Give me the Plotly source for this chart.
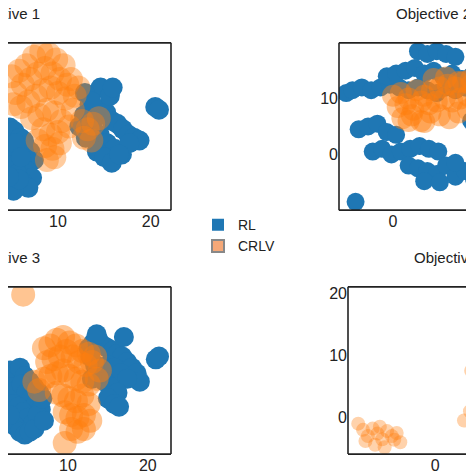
import plotly.graph_objects as go

BLUE = "#1f77b4"
ORANGE = "#ff7f0e"

# Objective 1
o1_rl_x = [4.8,5.3,5.9,6.4,7.0,7.4,4.9,5.5,6.1,6.7,7.2,5.0,5.6,6.2,6.8,5.2,5.8,6.3,4.7,5.4,6.0,
           12.3,12.8,13.4,14.0,14.6,15.2,15.8,16.4,17.0,17.6,18.2,18.8,13.0,13.8,14.5,15.3,16.1,
           16.9,17.7,14.2,15.0,15.8,16.6,14.6,15.6,12.9,15.9,13.6,20.5,20.9]
o1_rl_y = [4.8,4.2,3.0,1.8,0.5,-1.0,1.5,0.0,-1.5,-3.0,-4.2,-2.0,-3.5,-5.0,-6.0,-6.5,-4.5,2.5,-4.0,2.0,-0.5,
           5.0,7.0,9.0,6.5,8.0,7.5,6.0,5.5,4.5,3.5,3.0,2.5,3.0,4.0,3.5,2.0,1.0,0.0,2.0,0.5,-0.5,-1.5,
           0.0,12.0,10.5,11.0,12.0,9.5,8.5,8.0]
o1_cr_x = [5.0,5.8,6.6,7.4,8.2,9.0,9.8,10.6,11.4,12.2,5.4,6.2,7.0,7.8,8.6,9.4,10.2,11.0,11.8,
           6.0,6.8,7.6,8.4,9.2,10.0,10.8,11.6,7.2,8.0,8.8,9.6,10.4,11.2,8.4,9.2,10.0,7.8,8.6,9.4,
           10.2,12.6,13.2,13.8,14.4,12.8,13.6,8.8,9.6,5.2]
o1_cr_y = [14.0,15.0,16.0,17.5,18.5,18.0,17.0,16.0,13.5,12.0,11.0,12.5,13.5,14.5,15.5,14.5,13.5,
           12.5,10.5,8.5,9.5,10.5,11.5,12.0,11.0,10.0,8.0,6.5,7.0,8.0,7.5,6.0,5.0,4.5,3.5,4.0,
           2.5,1.5,1.0,2.0,6.0,4.5,5.5,6.5,3.0,2.5,-1.0,-0.5,9.0]

# Objective 2
o2_rl_x = [-3.0,-2.6,-2.0,-1.4,-0.8,-0.2,0.4,1.0,1.6,2.2,2.8,3.4,4.0,4.6,5.2,5.6,
           1.6,2.2,2.8,3.4,4.0,-0.4,0.2,0.8,1.4,2.0,2.6,3.2,3.8,4.4,5.0,5.6,
           -2.2,-1.6,-1.0,-0.4,0.2,-1.3,-0.7,-0.1,0.5,1.1,1.7,2.3,2.9,
           1.0,1.6,2.2,2.8,3.4,4.0,4.6,5.2,5.6,2.0,3.0,4.0,-2.4,5.0,5.6]
o2_rl_y = [11.0,11.5,12.0,11.5,12.0,12.5,12.0,11.5,12.0,11.5,11.0,12.0,11.5,12.0,11.0,11.5,
           18.5,18.0,18.5,18.0,17.5,14.0,14.5,15.0,15.5,14.5,15.0,14.0,14.5,13.5,14.0,14.5,
           4.5,5.0,5.5,4.0,3.5,0.5,1.0,0.0,0.5,1.0,1.5,1.0,0.5,
           -2.0,-2.5,-3.0,-3.5,-2.0,-4.0,-3.0,-4.5,-3.5,-4.8,-5.0,-1.5,-8.5,6.0,4.5]
o2_cr_x = [0.0,0.5,1.0,1.5,2.0,2.5,3.0,3.5,4.0,4.5,5.0,5.5,0.3,0.8,1.3,1.8,2.3,2.8,3.3,3.8,
           4.3,4.8,5.3,0.6,1.2,1.8,2.4,3.0,3.6,4.2,4.8,5.4,2.6,3.4,4.2,5.0,1.0,2.0]
o2_cr_y = [10.5,11.0,10.0,11.5,10.5,11.5,12.0,12.5,12.0,13.0,12.5,12.0,8.5,9.0,8.0,9.5,9.0,
           9.5,10.0,9.5,10.0,10.5,9.5,6.5,7.0,6.0,7.5,7.0,6.5,7.5,8.0,7.0,13.5,13.8,13.0,13.5,6.0,5.8]

# Objective 3
o3_rl_x = [2.8,3.4,4.0,4.6,5.2,5.8,6.4,3.0,3.6,4.2,4.8,5.4,6.0,6.6,3.2,3.8,4.4,5.0,5.6,6.2,
           3.4,4.0,4.6,5.2,5.8,2.7,6.8,7.0,
           12.6,13.2,13.8,14.4,15.0,15.6,16.2,16.8,17.4,18.0,18.6,19.0,13.4,14.2,15.0,15.8,16.6,
           17.4,14.6,15.4,16.2,15.0,15.8,16.4,12.8,13.6,21.0,21.4,13.0,17.0]
o3_rl_y = [5.0,4.5,5.5,4.0,3.0,2.0,1.0,2.0,1.5,2.5,1.0,0.0,-1.0,-2.0,-1.0,-1.5,-2.5,-3.5,-4.5,
           -3.0,-5.0,-6.0,-6.5,-6.0,-5.5,-3.0,0.0,-4.0,
           9.0,10.0,10.5,9.5,9.0,8.5,8.0,7.5,6.5,5.5,4.5,3.0,6.0,5.0,6.0,5.5,4.5,3.5,3.0,2.0,1.0,
           0.0,-1.0,-1.5,7.5,11.5,7.0,7.5,3.5,11.0]
o3_cr_x = [7.0,7.8,8.6,9.4,10.2,11.0,11.8,12.6,13.4,7.4,8.2,9.0,9.8,10.6,11.4,12.2,13.0,14.0,
           7.0,7.8,8.6,9.4,10.2,11.0,11.8,12.6,13.6,8.6,9.4,10.2,11.0,11.8,12.6,9.6,10.4,11.2,
           12.0,12.8,10.4,11.2,12.0,9.6,5.8,6.4,4.4]
o3_cr_y = [9.0,9.5,10.5,11.0,10.0,9.5,8.5,8.0,7.5,6.5,7.0,7.5,8.5,7.5,6.5,6.0,6.5,5.0,3.5,4.0,
           4.5,5.0,4.0,3.5,3.0,2.5,3.5,1.0,0.5,0.0,-0.5,0.5,-1.0,-2.5,-3.0,-3.5,-3.0,-4.0,-5.5,
           -6.0,-5.5,-8.0,3.0,1.5,18.6]

# Objective 4
o4_cr_x = [-6.4,-6.0,-5.6,-5.2,-4.8,-4.4,-4.0,-3.6,-3.2,-2.9,-5.8,-5.0,-4.2,-3.4,-4.6,2.4,2.9,3.4,3.7,3.0,3.6]
o4_cr_y = [-1.0,-2.0,-3.0,-1.8,-2.6,-3.5,-2.2,-3.0,-2.5,-4.0,-3.8,-4.4,-4.8,-3.6,-1.5,-0.5,1.0,-1.5,6.5,7.5,5.0]

fig = go.Figure()
axes = [("x", "y"), ("x2", "y2"), ("x3", "y3"), ("x4", "y4")]
data = [
    [(o1_rl_x, o1_rl_y, BLUE, 1.0, 20), (o1_cr_x, o1_cr_y, ORANGE, 0.4, 24)],
    [(o2_rl_x, o2_rl_y, BLUE, 1.0, 18), (o2_cr_x, o2_cr_y, ORANGE, 0.45, 22)],
    [(o3_rl_x, o3_rl_y, BLUE, 1.0, 20), (o3_cr_x, o3_cr_y, ORANGE, 0.45, 24)],
    [(o4_cr_x, o4_cr_y, ORANGE, 0.35, 14)],
]
for (xa, ya), traces in zip(axes, data):
    for xs, ys, c, op, sz in traces:
        fig.add_trace(go.Scatter(x=xs, y=ys, mode="markers", xaxis=xa, yaxis=ya,
                                 showlegend=False,
                                 marker=dict(size=sz, color=c, opacity=op, line=dict(width=0))))
fig.add_trace(go.Scatter(x=[None], y=[None], mode="markers", name="RL",
                         marker=dict(symbol="square", size=18, color=BLUE)))
fig.add_trace(go.Scatter(x=[None], y=[None], mode="markers", name="CRLV",
                         marker=dict(symbol="square", size=18, color="#f5a878", line=dict(color="#888", width=1))))

W = H = 474
def px(v): return v / W
def py(v): return 1 - v / H

FONT = "Liberation Sans, Arial"
tf = dict(size=16, color="#222", family=FONT)
common = dict(showgrid=False, zeroline=False, ticks="", tickfont=tf, showline=False)
fig.update_layout(
    width=W, height=H, margin=dict(l=0, r=0, t=0, b=0),
    plot_bgcolor="white", paper_bgcolor="white",
    xaxis=dict(domain=[0, px(163)], range=[4.6, 22.2], tickvals=[10, 20], anchor="y", **common),
    yaxis=dict(domain=[py(201), py(33)], range=[-10, 20], showticklabels=False, anchor="x", **common),
    xaxis2=dict(domain=[px(331), 1], range=[-3.46, 5.7], tickvals=[0, 5], anchor="y2", **common),
    yaxis2=dict(domain=[py(201), py(33)], range=[-10, 20], tickvals=[0, 10], anchor="x2", **common),
    xaxis3=dict(domain=[0, px(163)], range=[2.5, 22.9], tickvals=[10, 20], anchor="y3", **common),
    yaxis3=dict(domain=[py(446), py(278)], range=[-10, 20], showticklabels=False, anchor="x3", **common),
    xaxis4=dict(domain=[px(340), 1], range=[-7.25, 3.9], tickvals=[0], anchor="y4", **common),
    yaxis4=dict(domain=[py(446), py(278)], range=[-5.9, 21], tickvals=[0, 10, 20], anchor="x4", **common),
    legend=dict(x=px(190), y=py(200), xanchor="left", yanchor="top",
                font=dict(size=14, color="#222", family=FONT),
                bgcolor="rgba(0,0,0,0)", itemsizing="constant", tracegroupgap=8),
)
shapes = []
for xd, yd, sides in [("x", "y", "trb"), ("x2", "y2", "tbl"), ("x3", "y3", "trb"), ("x4", "y4", "tbl")]:
    xr, yr = f"{xd} domain", f"{yd} domain"
    line = dict(color="#222", width=1.6)
    if "t" in sides: shapes.append(dict(type="line", xref=xr, yref=yr, x0=0, x1=1, y0=1, y1=1, line=line))
    if "b" in sides: shapes.append(dict(type="line", xref=xr, yref=yr, x0=0, x1=1, y0=0, y1=0, line=line))
    if "r" in sides: shapes.append(dict(type="line", xref=xr, yref=yr, x0=1, x1=1, y0=0, y1=1, line=line))
    if "l" in sides: shapes.append(dict(type="line", xref=xr, yref=yr, x0=0, x1=0, y0=0, y1=1, line=line))
fig.update_layout(shapes=shapes)
titles = [("Objective 1", 34, 4, "right"), ("Objective 2", 386, 4, "left"),
          ("Objective 3", 34, 249, "right"), ("Objective 4", 404, 249, "left")]
for t, x, y, anc in titles:
    fig.add_annotation(text=t, x=px(x), y=py(y), xref="paper", yref="paper", xanchor=anc,
                       yanchor="middle", showarrow=False, font=dict(size=15, color="#222", family=FONT))
fig.write_html("out.html")
